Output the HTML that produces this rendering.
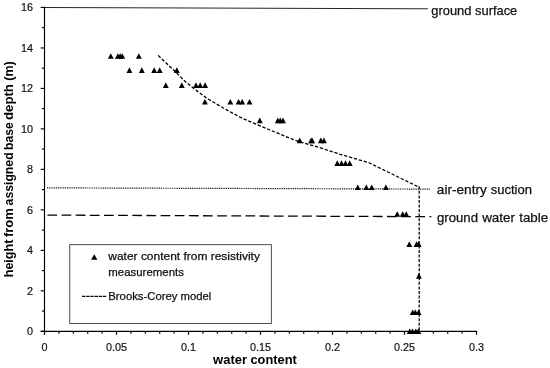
<!DOCTYPE html>
<html lang="en">
<head>
<meta charset="utf-8">
<title>Water content profile</title>
<style>
html,body{margin:0;padding:0;background:#fff;}
body{width:550px;height:368px;overflow:hidden;}
svg{display:block;font-family:"Liberation Sans",sans-serif;}
.tick text{font-size:10.8px;fill:#111;stroke:#111;stroke-width:0.2px;}
.ann text{font-size:12.6px;fill:#111;stroke:#111;stroke-width:0.25px;}
.leg text{font-size:11.2px;fill:#111;stroke:#111;stroke-width:0.25px;}
.ttl text{font-size:12.6px;font-weight:bold;fill:#000;}
</style>
</head>
<body>
<svg width="550" height="368" viewBox="0 0 550 368">
<rect width="550" height="368" fill="#fff"/>
<!-- reference lines -->
<line x1="44.5" y1="7.5" x2="428.0" y2="8.8" stroke="#262626" stroke-width="1"/>
<line x1="47.0" y1="187.85" x2="430.0" y2="189.1" stroke="#111" stroke-width="1.2" stroke-dasharray="1.0 0.81"/>
<line x1="47.4" y1="215.1" x2="431.3" y2="216.7" stroke="#000" stroke-width="1.3" stroke-dasharray="9.7 4.45"/>
<!-- axes -->
<g stroke="#000" stroke-width="1.15" fill="none">
<line x1="44.5" y1="6.8" x2="44.5" y2="334.8"/>
<line x1="40.7" y1="331.3" x2="477.1" y2="331.3"/>
<line x1="40.7" y1="331.30" x2="44.5" y2="331.30"/>
<line x1="41.9" y1="311.06" x2="44.5" y2="311.06"/>
<line x1="40.7" y1="290.82" x2="44.5" y2="290.82"/>
<line x1="41.9" y1="270.58" x2="44.5" y2="270.58"/>
<line x1="40.7" y1="250.34" x2="44.5" y2="250.34"/>
<line x1="41.9" y1="230.10" x2="44.5" y2="230.10"/>
<line x1="40.7" y1="209.86" x2="44.5" y2="209.86"/>
<line x1="41.9" y1="189.62" x2="44.5" y2="189.62"/>
<line x1="40.7" y1="169.38" x2="44.5" y2="169.38"/>
<line x1="41.9" y1="149.14" x2="44.5" y2="149.14"/>
<line x1="40.7" y1="128.90" x2="44.5" y2="128.90"/>
<line x1="41.9" y1="108.66" x2="44.5" y2="108.66"/>
<line x1="40.7" y1="88.42" x2="44.5" y2="88.42"/>
<line x1="41.9" y1="68.18" x2="44.5" y2="68.18"/>
<line x1="40.7" y1="47.94" x2="44.5" y2="47.94"/>
<line x1="41.9" y1="27.70" x2="44.5" y2="27.70"/>
<line x1="40.7" y1="7.46" x2="44.5" y2="7.46"/>
<line x1="44.50" y1="331.3" x2="44.50" y2="334.8"/>
<line x1="58.90" y1="331.3" x2="58.90" y2="333.7"/>
<line x1="73.30" y1="331.3" x2="73.30" y2="333.7"/>
<line x1="87.70" y1="331.3" x2="87.70" y2="333.7"/>
<line x1="102.10" y1="331.3" x2="102.10" y2="333.7"/>
<line x1="116.50" y1="331.3" x2="116.50" y2="334.8"/>
<line x1="130.90" y1="331.3" x2="130.90" y2="333.7"/>
<line x1="145.30" y1="331.3" x2="145.30" y2="333.7"/>
<line x1="159.70" y1="331.3" x2="159.70" y2="333.7"/>
<line x1="174.10" y1="331.3" x2="174.10" y2="333.7"/>
<line x1="188.50" y1="331.3" x2="188.50" y2="334.8"/>
<line x1="202.90" y1="331.3" x2="202.90" y2="333.7"/>
<line x1="217.30" y1="331.3" x2="217.30" y2="333.7"/>
<line x1="231.70" y1="331.3" x2="231.70" y2="333.7"/>
<line x1="246.10" y1="331.3" x2="246.10" y2="333.7"/>
<line x1="260.50" y1="331.3" x2="260.50" y2="334.8"/>
<line x1="274.90" y1="331.3" x2="274.90" y2="333.7"/>
<line x1="289.30" y1="331.3" x2="289.30" y2="333.7"/>
<line x1="303.70" y1="331.3" x2="303.70" y2="333.7"/>
<line x1="318.10" y1="331.3" x2="318.10" y2="333.7"/>
<line x1="332.50" y1="331.3" x2="332.50" y2="334.8"/>
<line x1="346.90" y1="331.3" x2="346.90" y2="333.7"/>
<line x1="361.30" y1="331.3" x2="361.30" y2="333.7"/>
<line x1="375.70" y1="331.3" x2="375.70" y2="333.7"/>
<line x1="390.10" y1="331.3" x2="390.10" y2="333.7"/>
<line x1="404.50" y1="331.3" x2="404.50" y2="334.8"/>
<line x1="418.90" y1="331.3" x2="418.90" y2="333.7"/>
<line x1="433.30" y1="331.3" x2="433.30" y2="333.7"/>
<line x1="447.70" y1="331.3" x2="447.70" y2="333.7"/>
<line x1="462.10" y1="331.3" x2="462.10" y2="333.7"/>
<line x1="476.50" y1="331.3" x2="476.50" y2="334.8"/>
</g>
<!-- model -->
<path d="M158.2 55.4 L173.5 70.0 L185.0 81.3 L193.7 88.4 L206.8 98.2 L223.2 108.0 L241.0 117.7 L270.0 130.0 L290.0 138.3 L298.9 141.5 L320.0 147.7 L340.0 154.3 L350.0 157.1 L369.5 163.0 L419.2 187.3" fill="none" stroke="#000" stroke-width="1.3" stroke-dasharray="3.3 1.8" stroke-linejoin="round"/>
<line x1="419.2" y1="186.3" x2="419.2" y2="331.3" stroke="#000" stroke-width="1.25" stroke-dasharray="3.0 1.55"/>
<!-- data -->
<g fill="#000">
<path d="M107.80 58.80L110.75 53.20L113.70 58.80Z"/>
<path d="M114.95 58.80L117.90 53.20L120.85 58.80Z"/>
<path d="M117.25 58.80L120.20 53.20L123.15 58.80Z"/>
<path d="M119.30 58.80L122.25 53.20L125.20 58.80Z"/>
<path d="M135.85 58.80L138.80 53.20L141.75 58.80Z"/>
<path d="M126.45 72.90L129.40 67.30L132.35 72.90Z"/>
<path d="M138.85 72.90L141.80 67.30L144.75 72.90Z"/>
<path d="M151.25 72.90L154.20 67.30L157.15 72.90Z"/>
<path d="M156.75 72.90L159.70 67.30L162.65 72.90Z"/>
<path d="M173.90 72.90L176.85 67.30L179.80 72.90Z"/>
<path d="M162.85 87.90L165.80 82.30L168.75 87.90Z"/>
<path d="M178.85 87.90L181.80 82.30L184.75 87.90Z"/>
<path d="M193.05 87.90L196.00 82.30L198.95 87.90Z"/>
<path d="M197.25 87.90L200.20 82.30L203.15 87.90Z"/>
<path d="M202.15 87.90L205.10 82.30L208.05 87.90Z"/>
<path d="M201.95 104.60L204.90 99.00L207.85 104.60Z"/>
<path d="M227.35 104.60L230.30 99.00L233.25 104.60Z"/>
<path d="M235.65 104.60L238.60 99.00L241.55 104.60Z"/>
<path d="M239.25 104.60L242.20 99.00L245.15 104.60Z"/>
<path d="M246.55 104.60L249.50 99.00L252.45 104.60Z"/>
<path d="M256.85 123.20L259.80 117.60L262.75 123.20Z"/>
<path d="M274.85 123.20L277.80 117.60L280.75 123.20Z"/>
<path d="M277.35 123.20L280.30 117.60L283.25 123.20Z"/>
<path d="M280.05 123.20L283.00 117.60L285.95 123.20Z"/>
<path d="M296.75 143.20L299.70 137.60L302.65 143.20Z"/>
<path d="M308.15 143.20L311.10 137.60L314.05 143.20Z"/>
<path d="M309.15 143.20L312.10 137.60L315.05 143.20Z"/>
<path d="M317.85 143.20L320.80 137.60L323.75 143.20Z"/>
<path d="M320.95 143.20L323.90 137.60L326.85 143.20Z"/>
<path d="M334.35 165.90L337.30 160.30L340.25 165.90Z"/>
<path d="M338.55 165.90L341.50 160.30L344.45 165.90Z"/>
<path d="M342.55 165.90L345.50 160.30L348.45 165.90Z"/>
<path d="M346.75 165.90L349.70 160.30L352.65 165.90Z"/>
<path d="M354.85 190.10L357.80 184.50L360.75 190.10Z"/>
<path d="M363.35 190.10L366.30 184.50L369.25 190.10Z"/>
<path d="M368.75 190.10L371.70 184.50L374.65 190.10Z"/>
<path d="M382.95 190.10L385.90 184.50L388.85 190.10Z"/>
<path d="M394.25 216.80L397.20 211.20L400.15 216.80Z"/>
<path d="M399.75 216.80L402.70 211.20L405.65 216.80Z"/>
<path d="M403.25 216.80L406.20 211.20L409.15 216.80Z"/>
<path d="M406.35 246.90L409.30 241.30L412.25 246.90Z"/>
<path d="M413.65 246.90L416.60 241.30L419.55 246.90Z"/>
<path d="M415.75 246.90L418.70 241.30L421.65 246.90Z"/>
<path d="M415.95 278.70L418.90 273.10L421.85 278.70Z"/>
<path d="M409.75 315.00L412.70 309.40L415.65 315.00Z"/>
<path d="M412.35 315.00L415.30 309.40L418.25 315.00Z"/>
<path d="M415.65 315.00L418.60 309.40L421.55 315.00Z"/>
<path d="M406.75 334.10L409.70 328.50L412.65 334.10Z"/>
<path d="M409.45 334.10L412.40 328.50L415.35 334.10Z"/>
<path d="M412.85 334.10L415.80 328.50L418.75 334.10Z"/>
<path d="M415.35 334.10L418.30 328.50L421.25 334.10Z"/>
</g>
<!-- legend -->
<rect x="69.8" y="244.7" width="201.5" height="78.7" fill="#fff" stroke="#222" stroke-width="0.8"/>
<path d="M91.15 259.8L94.25 254.2L97.35 259.8Z" fill="#000"/>
<line x1="82.1" y1="296.4" x2="106.2" y2="296.4" stroke="#000" stroke-width="1.25" stroke-dasharray="3.3 0.85"/>
<g class="leg">
<text x="108.3" y="260.3" textLength="151.6" lengthAdjust="spacingAndGlyphs">water content from resistivity</text>
<text x="108.3" y="275.6" textLength="75.6" lengthAdjust="spacingAndGlyphs">measurements</text>
<text x="108.3" y="299.8" textLength="103" lengthAdjust="spacingAndGlyphs">Brooks-Corey model</text>
</g>
<!-- annotations -->
<g class="ann">
<text x="431.3" y="14.7" textLength="86" lengthAdjust="spacingAndGlyphs">ground surface</text>
<text x="436.8" y="193.5" textLength="50" lengthAdjust="spacingAndGlyphs">air-entry</text>
<text x="490.7" y="193.5" textLength="41.3" lengthAdjust="spacingAndGlyphs">suction</text>
<text x="437.0" y="221.9" textLength="41" lengthAdjust="spacingAndGlyphs">ground</text>
<text x="482.2" y="221.9" textLength="32.8" lengthAdjust="spacingAndGlyphs">water</text>
<text x="519.2" y="221.9" textLength="29" lengthAdjust="spacingAndGlyphs">table</text>
</g>
<!-- tick labels -->
<g class="tick">
<text x="32.9" y="335.30" text-anchor="end">0</text>
<text x="32.9" y="294.82" text-anchor="end">2</text>
<text x="32.9" y="254.34" text-anchor="end">4</text>
<text x="32.9" y="213.86" text-anchor="end">6</text>
<text x="32.9" y="173.38" text-anchor="end">8</text>
<text x="32.9" y="132.90" text-anchor="end">10</text>
<text x="32.9" y="92.42" text-anchor="end">12</text>
<text x="32.9" y="51.94" text-anchor="end">14</text>
<text x="32.9" y="11.46" text-anchor="end">16</text>
<text x="44.50" y="351.4" text-anchor="middle">0</text>
<text x="116.50" y="351.4" text-anchor="middle">0.05</text>
<text x="188.50" y="351.4" text-anchor="middle">0.1</text>
<text x="260.50" y="351.4" text-anchor="middle">0.15</text>
<text x="332.50" y="351.4" text-anchor="middle">0.2</text>
<text x="404.50" y="351.4" text-anchor="middle">0.25</text>
<text x="476.50" y="351.4" text-anchor="middle">0.3</text>
</g>
<!-- titles -->
<g class="ttl">
<text x="213.1" y="363.7" textLength="33.9" lengthAdjust="spacingAndGlyphs">water</text>
<text x="250.4" y="363.7" textLength="46.4" lengthAdjust="spacingAndGlyphs">content</text>
<g transform="translate(13.4 0) rotate(-90)">
<text x="-277.3" y="0" textLength="37.7" lengthAdjust="spacingAndGlyphs">height</text>
<text x="-237.1" y="0" textLength="28.8" lengthAdjust="spacingAndGlyphs">from</text>
<text x="-205.4" y="0" textLength="53.0" lengthAdjust="spacingAndGlyphs">assigned</text>
<text x="-149.9" y="0" textLength="27.8" lengthAdjust="spacingAndGlyphs">base</text>
<text x="-120.0" y="0" textLength="35.9" lengthAdjust="spacingAndGlyphs">depth</text>
<text x="-80.8" y="0" textLength="19.5" lengthAdjust="spacingAndGlyphs">(m)</text>
</g>
</g>
</svg>
</body>
</html>
